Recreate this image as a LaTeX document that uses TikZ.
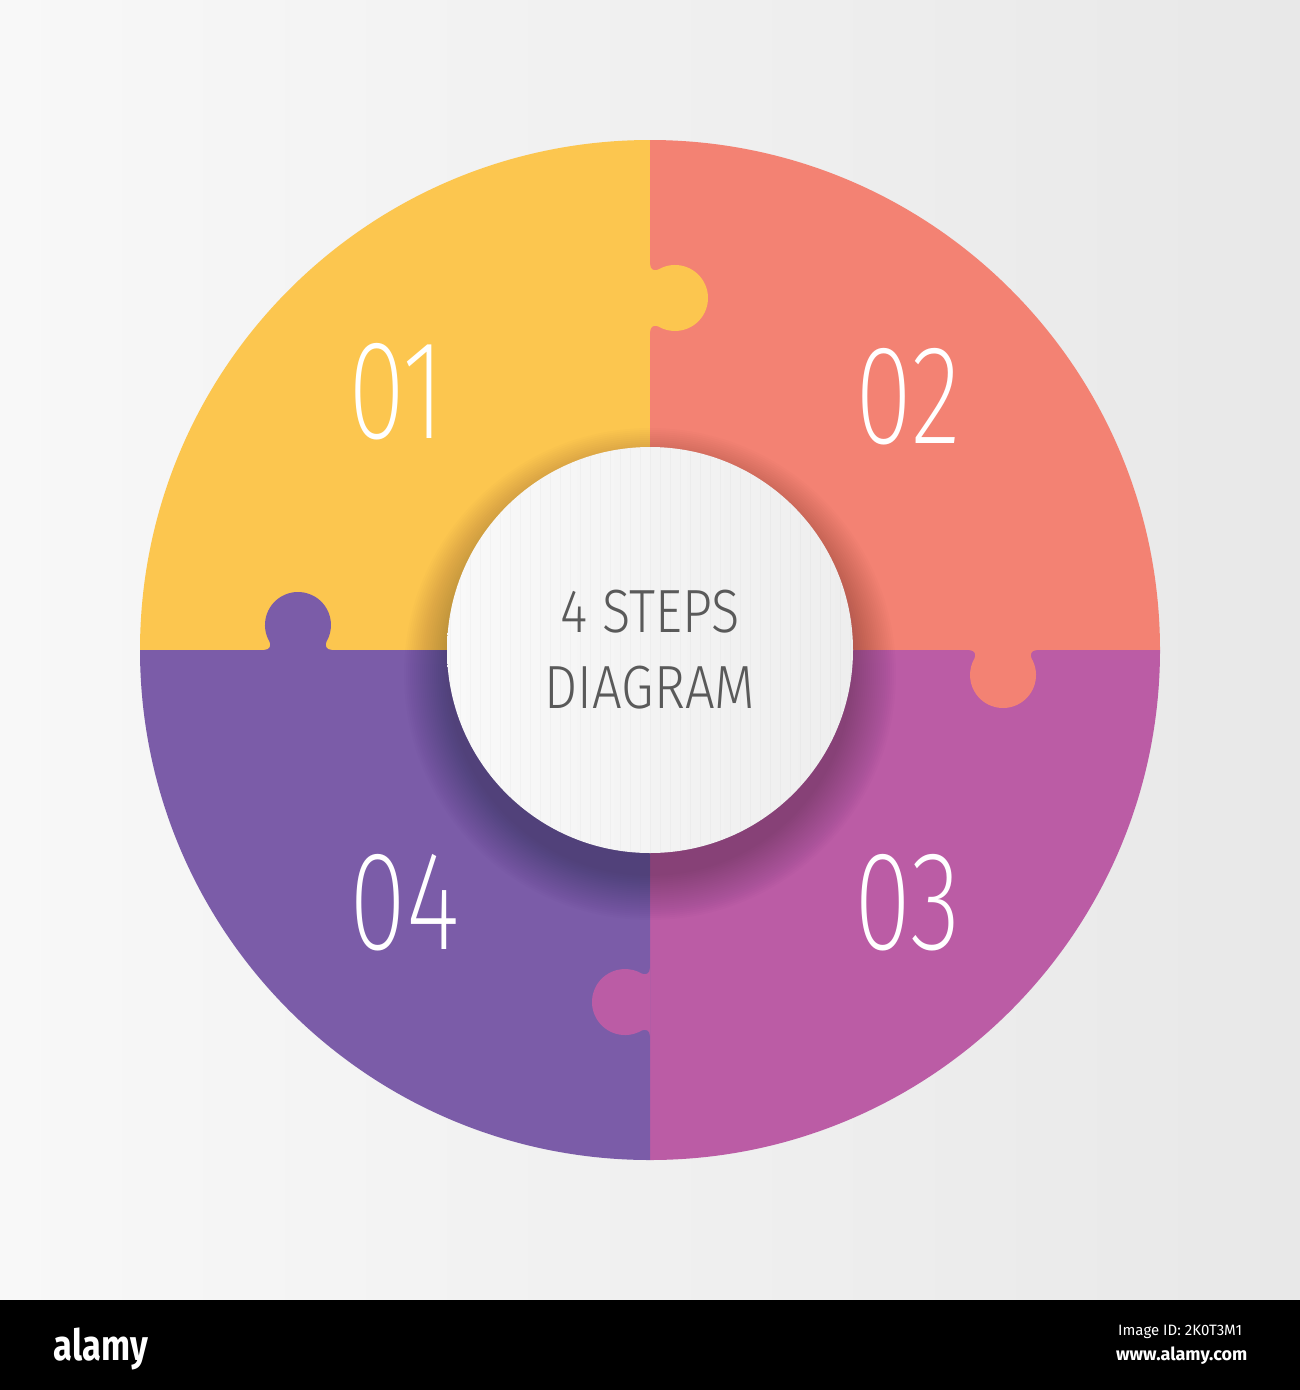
\documentclass[tikz,border=0pt]{standalone}
\usepackage{fontspec}
\setmainfont{Fira Sans}
\newfontfamily\numfont[FakeStretch=0.74]{Fira Sans ExtraLight}
\newfontfamily\titlefont[FakeStretch=0.86]{Fira Sans Light}
\newfontfamily\logofont[FakeStretch=0.8]{Fira Sans}
\usetikzlibrary{positioning}
\usetikzlibrary{calc}

\definecolor{pieceyellow}{HTML}{FCC64F}
\definecolor{piecesalmon}{HTML}{F38273}
\definecolor{piecemagenta}{HTML}{BB5CA5}
\definecolor{piecepurple}{HTML}{7B5CA8}
\definecolor{bgleft}{HTML}{F8F8F8}
\definecolor{bgright}{HTML}{E8E8E8}
\definecolor{hubleft}{HTML}{F9F9F9}
\definecolor{hubright}{HTML}{EEEEEE}
\definecolor{titlegray}{HTML}{5A5A5A}

\begin{document}
\begin{tikzpicture}[
    x=1pt, y=-1pt,
    number/.style={
        text=white,
        inner sep=0pt,
        font=\numfont\fontsize{141}{141}\selectfont
    },
    hub/.style={
        circle,
        minimum size=406pt,
        inner sep=0pt,
        left color=hubleft,
        right color=hubright,
        align=center,
        text=titlegray,
        font=\titlefont\fontsize{61}{76}\selectfont
    },
    credit/.style={
        text=white,
        inner sep=0pt,
        anchor=west,
        font=\fontsize{#1}{#1}\selectfont
    },
    boldcredit/.style={
        credit=#1,
        font=\fontsize{#1}{#1}\selectfont\bfseries
    },
    pics/knob/.style={
        code={
            \fill[#1] (0,-34) .. controls (0,-28) and (5,-26.6) .. (8.5,-28.6)
                arc[start angle=-120, end angle=120, radius=33]
                .. controls (5,26.6) and (0,28) .. (0,34) -- cycle;
        }
    }
]
\useasboundingbox (0,0) rectangle (1300,1390);

% Background
\fill[left color=bgleft, right color=bgright] (0,0) rectangle (1300,1300);
\fill[black] (0,1300) rectangle (1300,1390);

\coordinate (C) at (650,650);

% Puzzle pieces
\fill[pieceyellow]  (C) -- ++(180:510) arc[start angle=180, end angle=270, radius=510] -- cycle;
\fill[piecesalmon]  (C) -- ++(270:510) arc[start angle=270, end angle=360, radius=510] -- cycle;
\fill[piecemagenta] (C) -- ++(0:510)   arc[start angle=0,   end angle=90,  radius=510] -- cycle;
\fill[piecepurple]  (C) -- ++(90:510)  arc[start angle=90,  end angle=180, radius=510] -- cycle;

% Tabs
\pic at (650,298) {knob=pieceyellow};
\pic[rotate=-90] at (1003,650) {knob=piecesalmon};
\pic[rotate=180] at (650,1002) {knob=piecemagenta};
\pic[rotate=90] at (298,650) {knob=piecepurple};

% Shadow under the hub
\begin{scope}
    \clip (C) circle (510);
    \foreach \r in {2,4,...,46}
        \fill[black, opacity=0.012] ($(C)+(0,24)$) circle (200+\r);
\end{scope}

% Main nodes
\node[hub] (hub) at (C) {4 STEPS\\DIAGRAM};
\begin{scope}
    \clip (C) circle (203);
    \foreach \x in {450,460,...,850}
        \draw[black, opacity=0.025, line width=1pt] (\x,440) -- (\x,860);
\end{scope}

\node[number] (step1) at (397,392) {01};
\node[number] (step2) at (908,397) {02};
\node[number] (step3) at (908,903) {03};
\node[number] (step4) at (405,903) {04};

% Footer
\node[text=white, inner sep=0pt, font=\logofont\bfseries\fontsize{43}{43}\selectfont] (logo) at (101,1349) {alamy};
\node[credit=15] (imageid) at (1118,1332) {Image ID: 2K0T3M1};
\node[boldcredit=18] (site) at (1116,1356) {www.alamy.com};

\end{tikzpicture}
\end{document}
